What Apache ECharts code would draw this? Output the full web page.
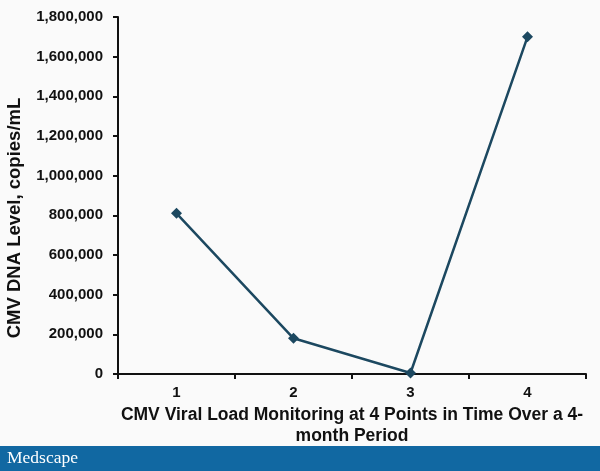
<!DOCTYPE html>
<html>
<head>
<meta charset="utf-8">
<script src="https://cdn.jsdelivr.net/npm/echarts@6/dist/echarts.min.js"></script>
<style>
html,body{margin:0;padding:0;background:#fafafa;}
#chart{width:600px;height:471px;}
</style>
</head>
<body>
<div id="chart"></div>
<script>
var categories=['1','2','3','4'];
var viralLoad=[810000,180000,5000,1700000];      // copies/mL
var yTicks={min:0,max:1800000,interval:200000};

var myChart=echarts.init(document.getElementById('chart'));
var option={
    backgroundColor:'#fafafa',
    animation:false,
    textStyle:{fontFamily:'Liberation Sans, Arial, sans-serif'},
    grid:{left:118,right:14,top:17,bottom:97},
    xAxis:{
        type:'category',
        data:categories,
        boundaryGap:true,
        name:'CMV Viral Load Monitoring at 4 Points in Time Over a 4-\nmonth Period',
        nameLocation:'middle',
        nameGap:31,
        nameTextStyle:{color:'#111',fontSize:17.5,fontWeight:'bold',lineHeight:21,verticalAlign:'top'},
        axisLine:{lineStyle:{color:'#111',width:2}},
        axisTick:{show:true,length:5,lineStyle:{color:'#111',width:2}},
        axisLabel:{color:'#111',fontSize:15,fontWeight:'bold',margin:11}
    },
    yAxis:{
        type:'value',
        min:yTicks.min,max:yTicks.max,interval:yTicks.interval,
        axisLine:{show:true,lineStyle:{color:'#111',width:2}},
        axisTick:{show:true,length:5,lineStyle:{color:'#111',width:2}},
        splitLine:{show:false},
        axisLabel:{color:'#111',fontSize:15,fontWeight:'bold',margin:15,
            formatter:function(v){return v.toString().replace(/\B(?=(\d{3})+(?!\d))/g,',');}}
    },
    series:[{
        type:'line',
        data:viralLoad,
        symbol:'diamond',
        symbolSize:11,
        lineStyle:{color:'#1c4860',width:2.5},
        itemStyle:{color:'#1c4860'}
    }],
    graphic:[
        {type:'text',x:15,y:218,rotation:Math.PI/2,        //纵轴标题，居中位置偏下
            style:{text:'CMV DNA Level, copies/mL',fill:'#111',
                font:'bold 18.5px "Liberation Sans", Arial, sans-serif',
                textAlign:'center',textVerticalAlign:'middle'}},
        {type:'rect',left:0,top:446,shape:{width:600,height:25},style:{fill:'#1168a2'},z:10},
        {type:'text',left:7,top:449,style:{text:'Medscape',fill:'#fff',font:'17.5px "Liberation Serif", "DejaVu Serif", serif'},z:11}
    ]
};
option && myChart.setOption(option);
</script>
</body>
</html>
